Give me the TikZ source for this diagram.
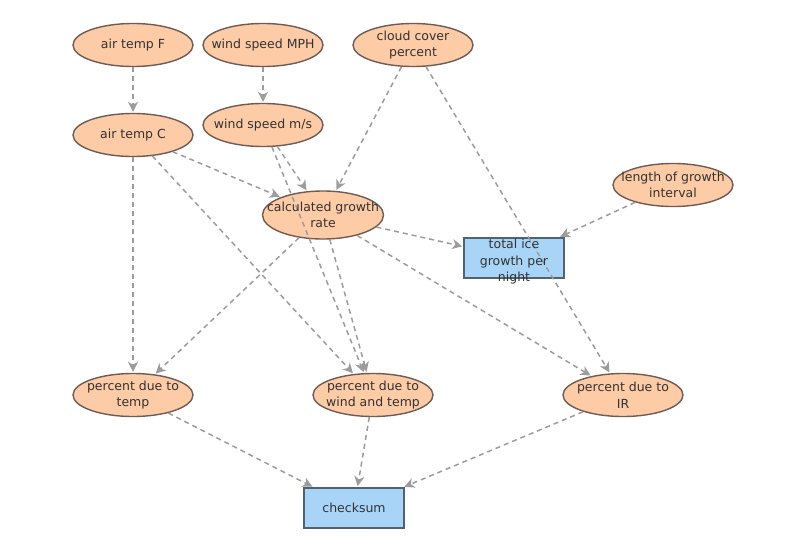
\documentclass[tikz,border=0pt]{standalone}
\usepackage{fontspec}
\setmainfont{DejaVu Sans}
\usetikzlibrary{shapes.geometric,arrows.meta}
\definecolor{ovalfill}{HTML}{FDCBA6}
\definecolor{ovaldraw}{HTML}{6E5C54}
\definecolor{boxfill}{HTML}{A8D4F7}
\definecolor{boxdraw}{HTML}{55626E}
\definecolor{linkcol}{HTML}{9C9C9C}
\definecolor{txtcol}{HTML}{333333}
\tikzset{
  x=1pt,y=-1pt,
  lbl/.style={font=\fontsize{12.5}{16.5}\selectfont, text=txtcol, align=center, inner sep=0pt},
  oval/.style={ellipse, draw=ovaldraw, fill=ovalfill, line width=1.4pt, minimum width=120pt, minimum height=43pt, inner sep=0pt},
  sqbox/.style={rectangle, draw=boxdraw, fill=boxfill, line width=1.6pt, minimum width=100pt, minimum height=40pt, inner sep=0pt},
  link/.style={draw=linkcol, line width=1.5pt, dash pattern=on 5pt off 4pt, -{Stealth[length=10pt,width=10pt,inset=3pt]}, shorten >=1pt}
}
\begin{document}
\begin{tikzpicture}
\useasboundingbox (0,0) rectangle (800,549);
% nodes
\node[oval] (atf) at (133,45) {};
\node[oval] (wmph) at (263,45) {};
\node[oval] (cloud) at (413,45) {};
\node[oval] (atc) at (133,135) {};
\node[oval] (wms) at (263,125) {};
\node[oval, minimum width=121pt, minimum height=48pt] (calc) at (323,215) {};
\node[oval] (len) at (673,185) {};
\node[oval] (ptemp) at (133,395) {};
\node[oval] (pwind) at (373,395) {};
\node[oval] (pir) at (623,395) {};
\node[sqbox] (total) at (514,258) {};
\node[sqbox] (check) at (354,508) {};
% links
\path[link] (atf) -- (atc);
\path[link] (wmph) -- (wms);
\path[link] (atc) -- (calc);
\path[link] (wms) -- (calc);
\path[link] (cloud) -- (calc);
\path[link] (cloud) -- (pir);
\path[link] (calc) -- (total);
\path[link] (len) -- (total);
\path[link] (atc) -- (ptemp);
\path[link] (atc) -- (pwind);
\path[link] (wms) -- (pwind);
\path[link] (calc) -- (ptemp);
\path[link] (calc) -- (pwind);
\path[link] (calc) -- (pir);
\path[link] (ptemp) -- (check);
\path[link] (pwind) -- (check);
\path[link] (pir) -- (check);
% labels
\node[lbl] (tatf) at (atf.center) {air temp F};
\node[lbl] (twmph) at (wmph.center) {wind speed MPH};
\node[lbl] (tcloud) at (cloud.center) {cloud cover\\percent};
\node[lbl] (tatc) at (atc.center) {air temp C};
\node[lbl] (twms) at (wms.center) {wind speed m/s};
\node[lbl] (tcalc) at (calc.center) {calculated growth\\rate};
\node[lbl] (tlen) at (len.center) {length of growth\\interval};
\node[lbl] (tptemp) at (ptemp.center) {percent due to\\temp};
\node[lbl] (tpwind) at (pwind.center) {percent due to\\wind and temp};
\node[lbl] (tpir) at (pir.center) {percent due to\\IR};
\node[lbl, text=black!80] (ttotal) at ([yshift=-4pt]total.center) {total ice\\growth per\\night};
\node[lbl] (tcheck) at (check.center) {checksum};
\end{tikzpicture}
\end{document}
